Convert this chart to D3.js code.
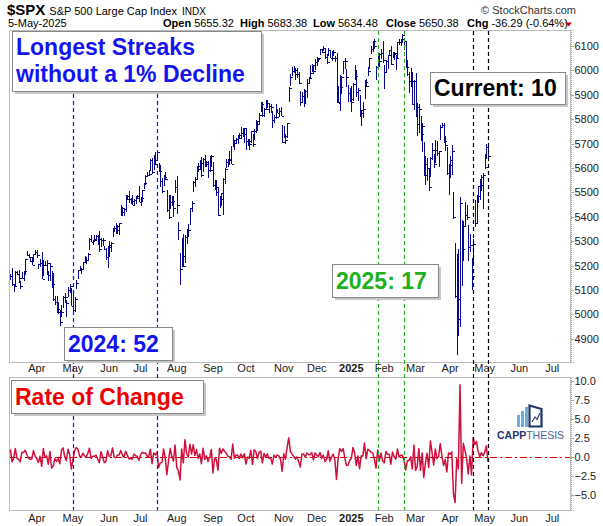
<!DOCTYPE html>
<html>
<head>
<meta charset="utf-8">
<title>SPX streaks</title>
<script src="https://cdn.jsdelivr.net/npm/d3@7"></script>
<style>
  body { margin: 0; background: #fff; }
  svg { display: block; font-family: "Liberation Sans", Arial, sans-serif; }
  .axis text { font-size: 11px; fill: #222; }
  .axis path, .axis line { stroke: #aaa; shape-rendering: crispEdges; }
  .frame { fill: none; stroke: #bbb; shape-rendering: crispEdges; }
  .mlab { font-size: 11px; fill: #222; text-anchor: middle; }
</style>
</head>
<body>
<script>
// ---- data (SPX daily, Mar 7 2024 .. May 5 2025) ----
var startDate = "2024-03-07", lastDate = "2025-05-05", endDate = "2025-07-16";
var holidays = ["2024-03-29","2024-05-27","2024-06-19","2024-07-04","2024-09-02","2024-11-28","2024-12-25",
  "2025-01-01","2025-01-09","2025-01-20","2025-02-17","2025-04-18","2025-05-26","2025-06-19","2025-07-04"];
var prevClose = 5105;

var closes = [
  5157,5124,5118,5175,5165,5150,5117,5149,5179,5225,5242,5234,5218,5204,5248,5254,
  5244,5206,5211,5147,5204,5202,5210,5161,5199,5123,5062,5051,5022,5011,4967,5011,5071,5072,5048,5100,5116,5036,
  5018,5064,5128,5181,5188,5188,5214,5223,5221,5247,5308,5297,5303,5308,5321,5307,5268,5305,5306,5267,5235,5278,
  5283,5291,5354,5353,5347,5361,5375,5421,5434,5432,5473,5487,5473,5465,5448,5469,5478,5483,5460,
  5475,5509,5537,5567,5573,5577,5634,5585,5615,5631,5667,5588,5545,5505,5564,5556,5427,5399,5459,5464,5436,5522,
  5447,5347,5186,5240,5200,5319,5344,5344,5434,5455,5543,5554,5608,5597,5621,5571,5635,5617,5626,5592,5592,5648,
  5529,5520,5503,5408,5471,5496,5554,5596,5626,5633,5635,5618,5714,5703,5719,5733,5722,5745,5738,5762,
  5709,5710,5700,5751,5696,5751,5792,5780,5815,5860,5815,5842,5841,5865,5854,5851,5797,5810,5808,5824,5833,5814,5705,
  5729,5713,5783,5929,5973,5996,6001,5984,5985,5949,5871,5894,5917,5917,5949,5969,5987,6022,5999,6032,
  6047,6050,6086,6075,6090,6053,6035,6084,6051,6051,6074,6051,5872,5867,5931,5974,6040,6038,5971,5907,5882,
  5869,5942,5975,5909,5918,5827,5836,5843,5950,5937,5997,6049,6086,6119,6101,6012,6068,6039,6071,6041,
  5995,6038,6061,6084,6026,6066,6069,6052,6115,6115,6130,6144,6118,6013,5983,5955,5956,5862,5955,
  5850,5778,5843,5739,5770,5615,5572,5599,5522,5639,5675,5615,5675,5663,5668,5768,5777,5712,5693,5581,5612,
  5633,5671,5397,5074,5062,4983,5457,5268,5363,5406,5397,5276,5283,5158,5288,5376,5485,5525,5529,5561,5569,
  5604,5687,5650
];
var highs = [
  5165,5189,5124,5179,5179,5182,5136,5175,5179,5225,5261,5246,5230,5236,5249,5265,
  5264,5208,5228,5256,5222,5219,5224,5178,5211,5176,5168,5077,5077,5049,5019,5038,5076,5089,5057,5114,5124,5110,
  5096,5073,5139,5181,5200,5191,5215,5239,5234,5250,5311,5325,5305,5325,5324,5326,5341,5311,5315,5282,5271,5280,
  5302,5298,5354,5362,5376,5365,5376,5447,5441,5432,5488,5490,5505,5478,5490,5472,5483,5490,5524,
  5479,5509,5539,5570,5583,5590,5635,5642,5655,5666,5669,5622,5614,5557,5571,5585,5509,5491,5488,5487,5487,5552,
  5566,5377,5250,5312,5330,5326,5351,5371,5436,5463,5546,5561,5608,5620,5633,5643,5641,5652,5628,5627,5647,5651,
  5623,5551,5551,5523,5485,5496,5560,5600,5636,5637,5670,5690,5733,5715,5722,5735,5742,5767,5764,5765,
  5758,5720,5718,5753,5739,5758,5796,5791,5823,5872,5871,5846,5878,5878,5866,5863,5834,5817,5862,5842,5847,5850,5775,
  5772,5741,5783,5933,5983,6012,6017,6008,6009,5993,5915,5909,5925,5920,5964,5973,6020,6025,6020,6045,
  6053,6052,6087,6087,6099,6088,6066,6092,6079,6078,6085,6057,6070,5935,5982,5978,6040,6049,6006,5940,5929,
  5935,5949,6022,6000,5928,5898,5836,5871,5961,5965,6014,6052,6100,6119,6128,6018,6070,6069,6086,6120,
  6022,6042,6062,6084,6101,6074,6076,6064,6116,6127,6130,6147,6134,6115,6043,5992,6009,5994,5959,
  5987,5865,5860,5812,5783,5705,5649,5642,5597,5645,5703,5659,5716,5711,5670,5775,5786,5784,5732,5685,5618,
  5650,5695,5500,5292,5246,5268,5481,5386,5381,5460,5450,5367,5328,5233,5309,5469,5489,5528,5553,5571,5581,
  5658,5700,5683
];
var lows = [
  5139,5117,5091,5114,5161,5127,5104,5147,5138,5161,5240,5230,5216,5203,5214,5246,
  5229,5184,5194,5146,5157,5197,5160,5138,5138,5107,5053,5040,5007,5001,4953,4991,5027,5047,4990,5073,5088,5035,
  5013,5011,5102,5143,5178,5165,5180,5211,5207,5218,5263,5297,5283,5297,5299,5286,5257,5278,5281,5262,5222,5191,
  5234,5257,5316,5336,5331,5331,5327,5404,5403,5403,5420,5471,5455,5452,5447,5446,5451,5471,5460,
  5446,5461,5513,5529,5562,5573,5587,5576,5590,5614,5631,5584,5523,5497,5527,5550,5420,5390,5430,5444,5397,5499,
  5410,5305,5120,5193,5195,5211,5289,5318,5365,5421,5501,5522,5550,5585,5591,5561,5585,5603,5603,5560,5585,5605,
  5520,5510,5487,5402,5434,5442,5406,5535,5601,5605,5614,5615,5687,5675,5703,5698,5717,5721,5727,5703,
  5675,5688,5675,5702,5684,5714,5745,5752,5775,5829,5808,5807,5840,5846,5824,5826,5763,5784,5799,5823,5809,5811,5702,
  5723,5696,5722,5870,5935,5976,5987,5960,5969,5943,5853,5865,5850,5860,5885,5944,5963,5992,5984,6003,
  6019,6034,6064,6072,6080,6048,6024,6058,6051,6036,6059,6035,5867,5866,5832,5903,5983,6007,5932,5869,5869,
  5829,5875,5960,5890,5874,5809,5773,5805,5883,5930,5978,6006,6065,6075,6088,5962,6010,6014,6046,6030,
  5923,5990,6007,6059,6020,6049,6042,6003,6051,6104,6099,6111,6084,6008,5977,5908,5933,5858,5837,
  5810,5732,5743,5712,5667,5565,5529,5547,5505,5563,5633,5598,5622,5650,5603,5715,5764,5703,5670,5572,5489,
  5558,5571,5390,5069,4835,4910,4950,5115,5220,5359,5386,5220,5255,5101,5207,5356,5371,5455,5468,5505,5433,
  5597,5637,5634
];

var priceTicks = [4900,5000,5100,5200,5300,5400,5500,5600,5700,5800,5900,6000,6100];
var rocTicks = [-5,-2.5,0,2.5,5,7.5,10];
var monthNames = ["Jan","Feb","Mar","Apr","May","Jun","Jul","Aug","Sep","Oct","Nov","Dec"];

var streakLines = [
  { date: "2024-05-01", color: "#1010ee" },
  { date: "2024-07-16", color: "#1010ee" },
  { date: "2025-01-28", color: "#22b022" },
  { date: "2025-02-20", color: "#22b022" },
  { date: "2025-04-22", color: "#000" },
  { date: "2025-05-05", color: "#000" }
];

// ---- trading-day calendar ----
var fmt = d3.timeFormat("%Y-%m-%d"), parse = d3.timeParse("%Y-%m-%d");
var days = d3.timeDay.range(parse(startDate), d3.timeDay.offset(parse(endDate), 1))
  .filter(function(d) { return d.getDay() > 0 && d.getDay() < 6 && holidays.indexOf(fmt(d)) < 0; })
  .map(fmt);
var nPast = days.indexOf(lastDate) + 1;
var bars = days.slice(0, nPast).map(function(d, i) {
  var pc = i === 0 ? prevClose : closes[i - 1];
  return { date: d, h: highs[i], l: lows[i], c: closes[i], roc: (closes[i] / pc - 1) * 100 };
});

var W = 603, H = 526;
var left = 9, right = 570;
var top1 = 30, bot1 = 362, top2 = 377, bot2 = 510;

var svg = d3.select("body").append("svg").attr("width", W).attr("height", H);

var x = d3.scalePoint().domain(days).range([10.4, 10.4 + (days.length - 1) * 1.647]);
var y = d3.scaleLinear().domain([4805, 6165]).range([bot1, top1]);
var yr = d3.scaleLinear().domain([-6.97, 10.53]).range([bot2, top2]);

// header
var hd = svg.append("g");
var t1 = hd.append("text").attr("x", 7).attr("y", 15);
t1.append("tspan").attr("font-size", 15).attr("font-weight", "bold").text("$SPX");
t1.append("tspan").attr("dx", 4).attr("font-size", 11).text("S&P 500 Large Cap Index");
t1.append("tspan").attr("dx", 5).attr("font-size", 10).text("INDX");
hd.append("text").attr("x", 576).attr("y", 14).attr("text-anchor", "end")
  .attr("font-size", 11).attr("fill", "#333").text("\u00a9 StockCharts.com");
hd.append("text").attr("x", 8).attr("y", 27).attr("font-size", 11).text("5-May-2025");
var quote = [["Open", "5655.32", 163], ["High", "5683.38", 240], ["Low", "5634.48", 313],
             ["Close", "5650.38", 386], ["Chg", "-36.29 (-0.64%)", 467]];
quote.forEach(function(q) {
  var t = hd.append("text").attr("x", q[2]).attr("y", 27).attr("font-size", 11);
  t.append("tspan").attr("font-weight", "bold").text(q[0]);
  t.append("tspan").attr("dx", 3).text(q[1]);
});
hd.append("path").attr("d", "M565,22.5L572,22.5L568.5,26.5Z").attr("fill", "#c00020");

// frames
svg.append("rect").attr("class", "frame").attr("x", left + 0.5).attr("y", top1 + 0.5)
  .attr("width", right - left).attr("height", bot1 - top1);
svg.append("rect").attr("class", "frame").attr("x", left + 0.5).attr("y", top2 + 0.5)
  .attr("width", right - left).attr("height", bot2 - top2);

// axes
svg.append("g").attr("class", "axis").attr("transform", "translate(" + (right + 0.5) + ",0)")
  .call(d3.axisRight(y).tickValues(priceTicks).tickSize(3).tickPadding(1).tickFormat(d3.format("d")))
  .call(function(g) { g.select(".domain").attr("stroke-dasharray", "1,1"); });
svg.append("g").attr("class", "axis").attr("transform", "translate(" + (right + 0.5) + ",0)")
  .call(d3.axisRight(yr).tickValues(rocTicks).tickSize(3).tickPadding(1).tickFormat(d3.format(".1f")))
  .call(function(g) { g.select(".domain").attr("stroke-dasharray", "1,1"); });

// month labels at first trading day of each month
var monthStarts = days.filter(function(d, i) { return i > 0 && d.slice(5, 7) !== days[i - 1].slice(5, 7); });
[372, 522].forEach(function(ly) {
  svg.append("g").selectAll("text").data(monthStarts).enter().append("text")
    .attr("class", "mlab")
    .attr("x", function(d) { return x(d); })
    .attr("y", ly)
    .attr("font-weight", function(d) { return d.slice(5, 7) === "01" ? "bold" : null; })
    .text(function(d) { var m = +d.slice(5, 7); return m === 1 ? d.slice(0, 4) : monthNames[m - 1]; });
});

// zero line of ROC
svg.append("line").attr("x1", left + 1).attr("x2", right)
  .attr("y1", Math.round(yr(0)) + 0.5).attr("y2", Math.round(yr(0)) + 0.5)
  .attr("stroke", "#e00000").attr("stroke-dasharray", "7,3,2,3");

// price bars (high-low with close tick)
var gb = svg.append("g").attr("stroke", "#06068a").attr("stroke-width", 1.2).attr("shape-rendering", "crispEdges");
gb.selectAll("line.hl").data(bars).enter().append("line").attr("class", "hl")
  .attr("x1", function(d) { return Math.round(x(d.date)) + 0.5; })
  .attr("x2", function(d) { return Math.round(x(d.date)) + 0.5; })
  .attr("y1", function(d) { return y(d.h); })
  .attr("y2", function(d) { return y(d.l); });
gb.selectAll("line.cl").data(bars).enter().append("line").attr("class", "cl")
  .attr("x1", function(d) { return Math.round(x(d.date)) + 1; })
  .attr("x2", function(d) { return Math.round(x(d.date)) + 2.5; })
  .attr("y1", function(d) { return Math.round(y(d.c)) + 0.5; })
  .attr("y2", function(d) { return Math.round(y(d.c)) + 0.5; });

// ROC line
svg.append("path").datum(bars)
  .attr("d", d3.line().x(function(d) { return x(d.date); }).y(function(d) { return yr(d.roc); }))
  .attr("fill", "none").attr("stroke", "#d10f3c").attr("stroke-width", 1.5).attr("stroke-linejoin", "round");

// streak markers through both panels
svg.append("g").selectAll("line").data(streakLines).enter().append("line")
  .attr("x1", function(d) { return Math.round(x(d.date)) + 0.5; })
  .attr("x2", function(d) { return Math.round(x(d.date)) + 0.5; })
  .attr("y1", top1 + 1).attr("y2", bot2)
  .attr("stroke", function(d) { return d.color; })
  .attr("stroke-width", 1.2).attr("stroke-dasharray", "4,3");

// annotation boxes
function box(bx, by, bw, bh, lines, color, fs, lh) {
  var g = svg.append("g");
  g.append("rect").attr("x", bx + 3).attr("y", by + 3).attr("width", bw).attr("height", bh).attr("fill", "#c8c8c8");
  g.append("rect").attr("x", bx + 0.5).attr("y", by + 0.5).attr("width", bw).attr("height", bh)
    .attr("fill", "#fff").attr("stroke", "#888");
  lines.forEach(function(s, i) {
    g.append("text").attr("x", bx + 4).attr("y", by + lh[i]).attr("font-size", fs)
      .attr("font-weight", "bold").attr("fill", color).text(s);
  });
}
box(12, 31, 249, 60, ["Longest Streaks", "without a 1% Decline"], "#1414f0", 23, [24, 51]);
box(430, 72, 135, 32, ["Current: 10"], "#000", 23, [24]);
box(332, 264, 106, 33, ["2025: 17"], "#20b020", 23, [25]);
box(64, 327, 108, 33, ["2024: 52"], "#1414f0", 23, [25]);
box(11, 380, 192, 33, ["Rate of Change"], "#ee0000", 23, [25]);

// logo
var lg = svg.append("g");
[[517, 415, 3, 12], [521, 411, 3, 16], [525, 407, 3, 20]].forEach(function(b) {
  lg.append("rect").attr("x", b[0]).attr("y", b[1]).attr("width", b[2]).attr("height", b[3]).attr("fill", "#6aaee0");
});
lg.append("path").attr("d", "M529.5,405.5L541.5,409L541.5,426.5L529.5,426.5Z")
  .attr("fill", "none").attr("stroke", "#1f3566").attr("stroke-width", 2.2);
lg.append("path").attr("d", "M532,422L535,417L537,419.5L540,413").attr("fill", "none")
  .attr("stroke", "#1f3566").attr("stroke-width", 1.1);
var lt = lg.append("text").attr("x", 497).attr("y", 439).attr("font-size", 10.5);
lt.append("tspan").attr("font-weight", "bold").attr("fill", "#23386a").text("CAPP");
lt.append("tspan").attr("fill", "#4b6396").text("THESIS");
</script>
</body>
</html>
